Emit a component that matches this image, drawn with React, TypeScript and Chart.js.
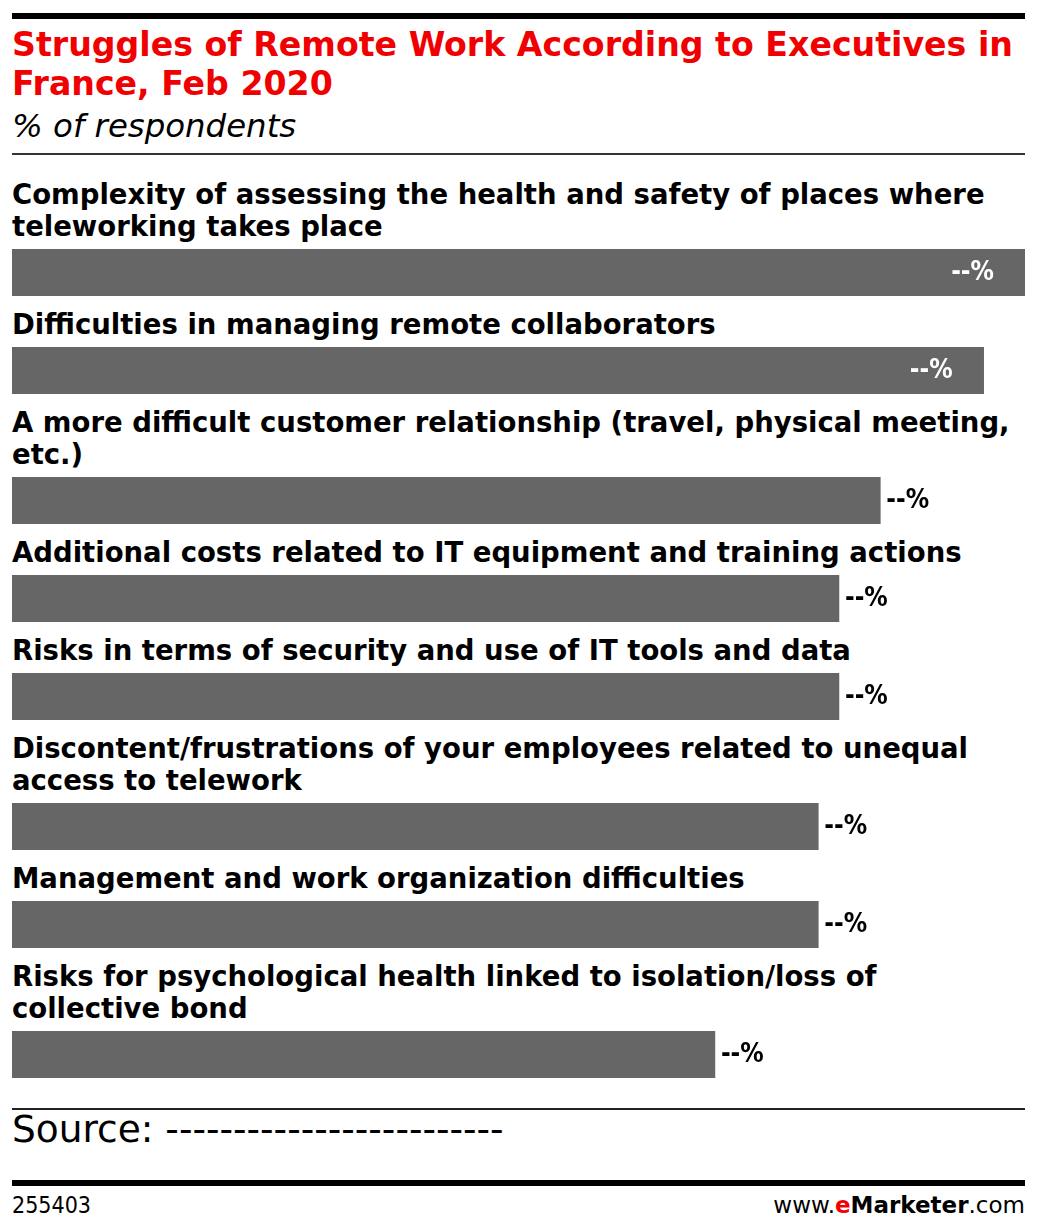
import React, { useEffect, useRef } from "react";
import { Chart, registerables } from "chart.js";

Chart.register(...registerables);

// labels keep the line breaks used in the original graphic
const categories = [
  "Complexity of assessing the health and safety of places where\nteleworking takes place",
  "Difficulties in managing remote collaborators",
  "A more difficult customer relationship (travel, physical meeting,\netc.)",
  "Additional costs related to IT equipment and training actions",
  "Risks in terms of security and use of IT tools and data",
  "Discontent/frustrations of your employees related to unequal\naccess to telework",
  "Management and work organization difficulties",
  "Risks for psychological health linked to isolation/loss of\ncollective bond",
];
const values = [49, 47, 42, 40, 40, 39, 39, 34];
const valueLabels = ["--%", "--%", "--%", "--%", "--%", "--%", "--%", "--%"];
const scaleMax = 49;

const title = "Struggles of Remote Work According to Executives in\nFrance, Feb 2020";
const subtitle = "% of respondents";
const source = "Source: -------------------------";
const chartId = "255403";

const BAR_COLOR = "#666666";
const RED = "#f00000";

if (typeof document !== "undefined") {
  document.body.style.margin = "0";
}

// draws "--%" at the end of the bar, inside if it would not fit outside
const valueLabelPlugin = {
  id: "valueLabel",
  afterDatasetsDraw(chart: any, _args: any, opts: any) {
    const { ctx, chartArea } = chart;
    const meta = chart.getDatasetMeta(0);
    ctx.save();
    ctx.font = "bold 26px 'DejaVu Sans Condensed', 'DejaVu Sans', sans-serif";
    ctx.textBaseline = "middle";
    meta.data.forEach((bar: any) => {
      const text = opts.text as string;
      const w = ctx.measureText(text).width;
      const y = bar.y + 1;
      if (bar.x + 6 + w > chartArea.right) {
        ctx.fillStyle = "#ffffff";
        ctx.textAlign = "right";
        ctx.fillText(text, bar.x - 31, y);
      } else {
        ctx.fillStyle = "#000000";
        ctx.textAlign = "left";
        ctx.fillText(text, bar.x + 6, y);
      }
    });
    ctx.restore();
  },
};

function BarRow({ label, value, valueLabel }: { label: string; value: number; valueLabel: string }) {
  const chartRef = useRef<HTMLCanvasElement | null>(null);

  useEffect(() => {
    if (!chartRef.current) {
      return;
    }
    const chartInstance = new Chart(chartRef.current, {
      type: "bar",
      data: {
        labels: [label],
        datasets: [
          {
            data: [value],
            backgroundColor: BAR_COLOR,
            borderWidth: 0,
            barPercentage: 1,
            categoryPercentage: 1,
          },
        ],
      },
      options: {
        indexAxis: "y",
        animation: false,
        responsive: true,
        maintainAspectRatio: false,
        layout: { padding: 0 },
        scales: {
          x: { display: false, min: 0, max: scaleMax },
          y: { display: false },
        },
        plugins: {
          legend: { display: false },
          tooltip: { enabled: false },
          valueLabel: { text: valueLabel },
        } as any,
      },
      plugins: [valueLabelPlugin],
    });
    return () => {
      chartInstance.destroy();
    };
  }, [label, value, valueLabel]);

  return (
    <div>
      <div
        style={{
          marginTop: 12,
          fontWeight: "bold",
          fontSize: 27.5,
          lineHeight: "32px",
          whiteSpace: "pre",
          color: "#000",
        }}
      >
        {label}
      </div>
      <div style={{ position: "relative", height: 47, marginTop: 7 }}>
        <canvas ref={chartRef}></canvas>
      </div>
    </div>
  );
}

export default function App() {
  return (
    <div
      style={{
        width: 1038,
        boxSizing: "border-box",
        padding: "13px 13px 0 12px",
        fontFamily: "'DejaVu Sans', sans-serif",
        background: "#fff",
      }}
    >
      <div style={{ height: 6, background: "#000" }} />
      <div
        style={{
          marginTop: 6,
          color: RED,
          fontWeight: "bold",
          fontSize: 33.2,
          lineHeight: "39px",
          whiteSpace: "pre",
        }}
      >
        {title}
      </div>
      <div style={{ marginTop: 4, fontStyle: "italic", fontSize: 32.4, lineHeight: "38px" }}>{subtitle}</div>
      <div style={{ marginTop: 8, height: 2, background: "#333" }} />
      <div style={{ paddingTop: 11 }}>
        {categories.map((c, i) => (
          <BarRow key={i} label={c} value={values[i]} valueLabel={valueLabels[i]} />
        ))}
      </div>
      <div style={{ marginTop: 30, height: 2, background: "#222" }} />
      <div style={{ fontSize: 37.5, lineHeight: "38px" }}>{source}</div>
      <div style={{ marginTop: 32, height: 6, background: "#000" }} />
      <div
        style={{
          display: "flex",
          justifyContent: "space-between",
          fontSize: 23,
          lineHeight: "26px",
          marginTop: 6,
        }}
      >
        <span style={{ fontFamily: "'DejaVu Sans Condensed', 'DejaVu Sans', sans-serif" }}>{chartId}</span>
        <span>
          www.<b style={{ color: RED }}>e</b>
          <b>Marketer</b>.com
        </span>
      </div>
    </div>
  );
}
